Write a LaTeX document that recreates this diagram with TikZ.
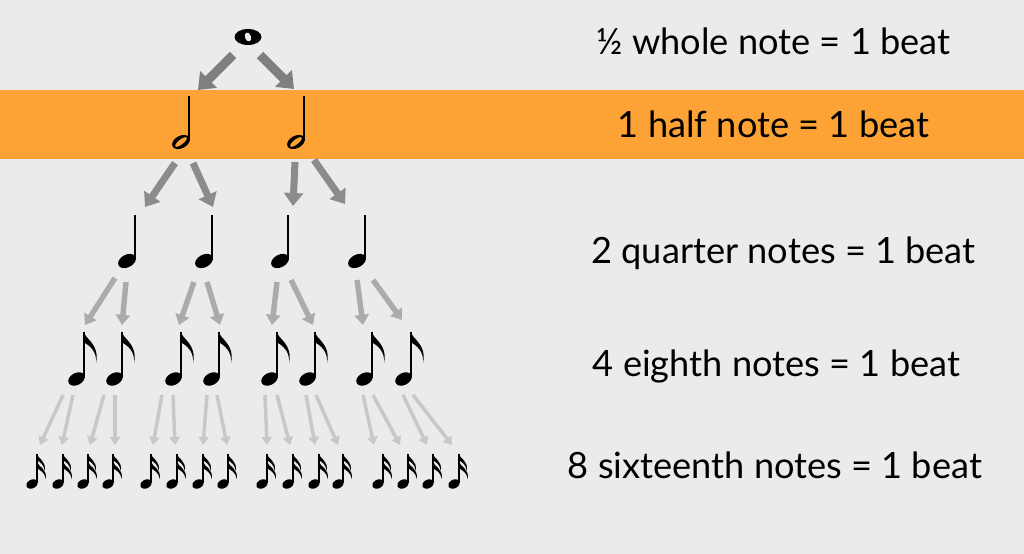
\documentclass[tikz,border=0pt]{standalone}
\usepackage{fontspec}
\setmainfont{Lato}
\usepackage{tikz}
\usetikzlibrary{arrows.meta}

\definecolor{paper}{HTML}{EBEBEB}
\definecolor{band}{HTML}{FDA234}
\definecolor{greyA}{HTML}{7F7F7F}
\definecolor{greyB}{HTML}{8C8C8C}
\definecolor{greyC}{HTML}{ABABAB}
\definecolor{greyD}{HTML}{C8C8C8}

\tikzset{
	stem/.style={line width=1.1pt},
	wholenote/.pic={
		\fill (0,0) ellipse (13.5 and 8);
		\fill[paper, rotate=-70] (0,0) ellipse (4.6 and 3);
	},
	halfnote/.pic={
		\fill[even odd rule] (-8,0) circle [x radius=9.5, y radius=6.2, rotate=28]
			(-8,0) circle [x radius=7.2, y radius=2.6, rotate=38];
		\draw[stem] (0,-1) -- (0,-46);
	},
	quarternote/.pic={
		\fill (-8,0) circle [x radius=9.5, y radius=6.3, rotate=28];
		\draw[stem] (0,-1) -- (0,-46);
	},
	eighthnote/.pic={
		\fill (-7.5,0) circle [x radius=8.8, y radius=6, rotate=28];
		\draw[stem] (0,-1) -- (0,-47);
		\fill (-0.5,-47.5) .. controls (1,-40) and (16,-35) .. (12,-16)
			.. controls (13,-28) and (6,-33) .. (-0.5,-37) -- cycle;
	},
	sixteenthnote/.pic={
		\fill (-5,0) circle [x radius=6.2, y radius=4.3, rotate=28];
		\draw[stem, line width=0.9pt] (0,-1) -- (0,-30);
		\fill (-0.4,-30.5) .. controls (1,-25) and (10,-23) .. (7.5,-13)
			.. controls (7.5,-19) and (3,-22) .. (-0.4,-24) -- cycle;
		\fill (-0.4,-23) .. controls (1,-17) and (11,-15) .. (8.5,-5)
			.. controls (8.5,-11) and (3,-14) .. (-0.4,-16) -- cycle;
	},
	arrowA/.style={greyA, line width=5.1pt, -{Triangle[width=13pt,length=8.5pt]}},
	arrowB/.style={greyB, line width=4pt, -{Triangle[width=10.8pt,length=7.4pt]}},
	arrowC/.style={greyC, line width=3.1pt, -{Triangle[width=8pt,length=5.8pt]}},
	arrowD/.style={greyD, line width=2pt, -{Triangle[width=5.8pt,length=4.6pt]}},
	rule/.style={anchor=base, text=black, font=\fontsize{20.6}{24}\selectfont},
}

\begin{document}
\begin{tikzpicture}[x=0.02cm, y=-0.02cm]
	\useasboundingbox (0,0) rectangle (1024,554);
	\fill[paper] (0,0) rectangle (1024,554);
	\fill[band] (0,90) rectangle (1024,159);

	% notes, one row per value
	\coordinate (w) at (248,37);
	\pic at (w) {wholenote};
	\foreach \n/\x in {1/189,2/304}
	{
		\coordinate (h\n) at (\x,142);
		\pic at (h\n) {halfnote};
	}
	\foreach \n/\x in {1/135,2/212,3/288,4/365}
	{
		\coordinate (q\n) at (\x,261);
		\pic at (q\n) {quarternote};
	}
	\foreach \n/\x in {1/84,2/122,3/181,4/219,5/277,6/315,7/372,8/411}
	{
		\coordinate (e\n) at (\x,379);
		\pic at (e\n) {eighthnote};
	}
	\foreach \n/\x in {1/37,2/63,3/88,4/113,5/151,6/177,7/203,8/228,9/267,10/293,11/319,12/343,13/383,14/408,15/433,16/459}
	{
		\coordinate (s\n) at (\x,484);
		\pic at (s\n) {sixteenthnote};
	}

	% arrows from each note to its two halves
	\draw[arrowA] ([shift={(-15,18)}]w) -- ([shift={(9,-52)}]h1);
	\draw[arrowA] ([shift={(12,18)}]w) -- ([shift={(-10,-53)}]h2);

	\foreach \p/\c/\a/\b/\d/\e in {h1/q1/-14/21/10/-54, h1/q2/4/21/1/-54, h2/q3/-9/20/5/-55, h2/q4/10/18/-20/-57}
		\draw[arrowB] ([shift={(\a,\b)}]\p) -- ([shift={(\d,\e)}]\c);

	\foreach \p/\c/\a/\b/\d/\e in {q1/e1/-20/17/1/-54, q1/e2/-9/21/0/-54, q2/e3/-18/21/-2/-54, q2/e4/-5/21/1/-54,
		q3/e5/-11/21/-5/-54, q3/e6/3/19/-2/-54, q4/e7/-8/19/-9/-54, q4/e8/8/19/-9/-59}
		\draw[arrowC] ([shift={(\a,\b)}]\p) -- ([shift={(\d,\e)}]\c);

	\foreach \p/\c/\a/\d in {e1/s1/-21/3, e1/s2/-11/-1, e2/s3/-18/2, e2/s4/-7/2, e3/s5/-19/2, e3/s6/-8/-2,
		e4/s7/-12/0, e4/s8/-2/-1, e5/s9/-12/0, e5/s10/0/-3, e6/s11/-9/-4, e6/s12/1/-5,
		e7/s13/-9/-9, e7/s14/1/-8, e8/s15/-8/-6, e8/s16/2/-7}
		\draw[arrowD] ([shift={(\a,16)}]\p) -- ([shift={(\d,-39)}]\c);

	% what each row adds up to
	\node[rule] (t0) at (773.5,55) {½ whole note = 1 beat};
	\node[rule] (t1) at (773.5,137) {1 half note = 1 beat};
	\node[rule] (t2) at (783.5,263) {2 quarter notes = 1 beat};
	\node[rule] (t3) at (776.5,376) {4 eighth notes = 1 beat};
	\node[rule] (t4) at (775,478) {8 sixteenth notes = 1 beat};
\end{tikzpicture}
\end{document}
